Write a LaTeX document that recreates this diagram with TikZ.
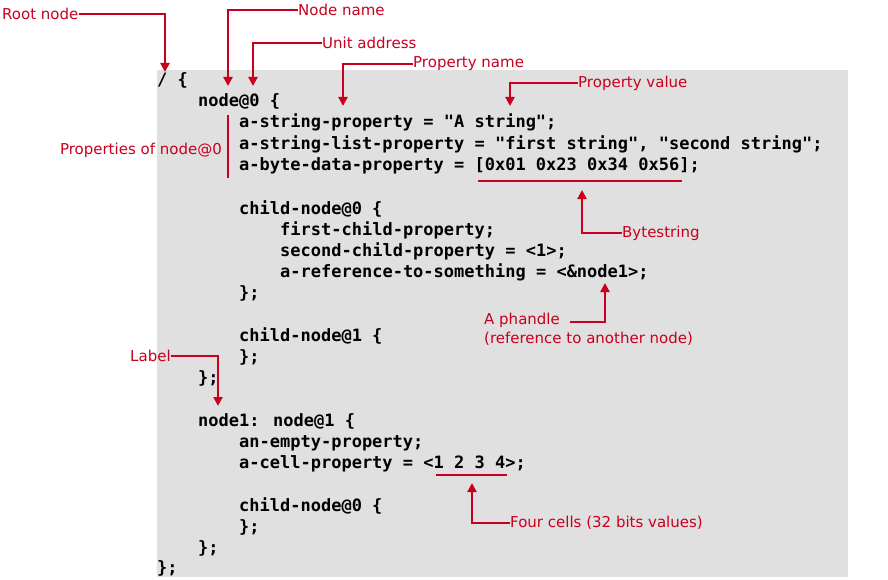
\documentclass[tikz,border=0pt]{standalone}
\usepackage{fontspec}
\setmainfont{DejaVu Sans}
\newfontfamily\codefont{DejaVu Sans Mono}
\usetikzlibrary{arrows.meta}
\definecolor{ann}{HTML}{C8001E}
\definecolor{bg}{HTML}{E0E0E0}
\begin{document}
\begin{tikzpicture}[x=1pt,y=-1pt,
  code/.style={anchor=base west,inner sep=0,font=\codefont\bfseries\fontsize{17}{17}\selectfont},
  lab/.style={anchor=west,inner sep=0,text=ann,font=\fontsize{15}{15}\selectfont},
  arr/.style={draw=ann,line width=2.6pt,-{Triangle[length=9pt,width=9pt]}},
  ln/.style={draw=ann,line width=2.6pt}]
\useasboundingbox (0,0) rectangle (888,580);
\fill[bg] (157,70) rectangle (848,577);
\foreach \n/\x/\y/\t in {
 c1/157/86/{/ \{},
 c2/198/107/{node@0 \{},
 c3/239/128/{a-string-property = "A string";},
 c4/239/150/{a-string-list-property = "first string", "second string";},
 c5/239/171/{a-byte-data-property = [0x01 0x23 0x34 0x56];},
 c6/239/214/{child-node@0 \{},
 c7/280/235/{first-child-property;},
 c8/280/256/{second-child-property = <1>;},
 c9/280/277/{a-reference-to-something = <\&node1>;},
 c10/239/298/{\};},
 c11/239/341/{child-node@1 \{},
 c12/239/362/{\};},
 c13/198/383/{\};},
 c14/198/426/{node1: node@1 \{},
 c15/239/447/{an-empty-property;},
 c16/239/468/{a-cell-property = <1 2 3 4>;},
 c17/239/511/{child-node@0 \{},
 c18/239/532/{\};},
 c19/198/553/{\};},
 c20/157/573/{\};}}
 \node[code] (\n) at (\x,\y) {\t};
\node[lab] (root) at (2,14) {Root node};
\node[lab] (nname) at (298,10) {Node name};
\node[lab] (uaddr) at (322,43) {Unit address};
\node[lab] (pname) at (413,64) {Property name};
\node[lab] (pval) at (578,83) {Property value};
\node[lab,anchor=east] (props) at (222,150) {Properties of node@0};
\node[lab] (bytes) at (622,233) {Bytestring};
\node[lab,align=left,anchor=north west] (phandle) at (484,313) {A phandle\\[4pt](reference to another node)};
\node[lab] (label) at (130,356) {Label};
\node[lab] (cells) at (510,523) {Four cells (32 bits values)};
\coordinate (b1) at (478,181); \coordinate (b2) at (682,181);
\coordinate (u1) at (436,475); \coordinate (u2) at (507,475);
\coordinate (p1) at (228,115); \coordinate (p2) at (228,178);
\draw[arr] (root.east) -| (165,72);
\draw[arr] (nname.west) -| (228,86);
\draw[arr] (uaddr.west) -| (253,86);
\draw[arr] (pname.west) -| (343,106);
\draw[arr] (pval.west) -| (510,106);
\draw[ln] (p1) -- (p2);
\draw[ln] (b1) -- (b2);
\draw[arr] (bytes.west) -| (582,190);
\draw[arr] (570,322) -| (605,283);
\draw[arr] (label.east) -| (218,406);
\draw[ln] (u1) -- (u2);
\draw[arr] (cells.west) -| (472,483);
\end{tikzpicture}
\end{document}
